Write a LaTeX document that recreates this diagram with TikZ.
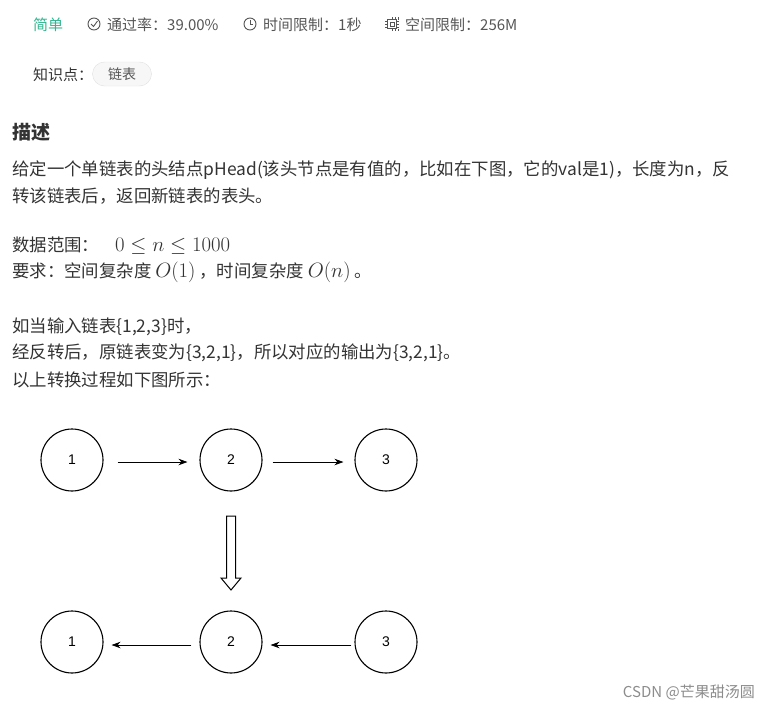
\documentclass[tikz,border=0pt]{standalone}
\usepackage{fontspec}
\setmainfont{Noto Sans CJK SC}
\newfontfamily\lsans{Liberation Sans}
\usetikzlibrary{arrows.meta}
\definecolor{txt}{HTML}{333333}
\definecolor{grn}{HTML}{32B48E}
\definecolor{gr}{HTML}{555555}
\newcommand{\mymath}[1]{{\fontsize{20}{20}\selectfont$#1$}}
\begin{document}
\begin{tikzpicture}[x=1pt,y=-1pt,
  t/.style={anchor=west,inner sep=0pt,text=txt,font=\fontsize{17.4}{20}\selectfont},
  h/.style={anchor=west,inner sep=0pt,text=gr,font=\fontsize{15}{18}\selectfont},
  ll/.style={circle,draw,line width=1.1pt,minimum size=62pt,inner sep=0pt,font=\fontsize{14}{16}\selectfont\lsans},
  ar/.style={-{Stealth[length=9pt,width=6.5pt]},line width=0.8pt}]
\useasboundingbox (0,0) rectangle (758,712);
\node[h,text=grn] (a) at (33,25) {简单};
\draw[gr,line width=0.9pt] (94,24) circle (6pt);
\draw[gr,line width=0.9pt] (91,24) -- (93.5,26.5) -- (97.5,21);
\node[h] (b) at (107,25) {通过率：39.00\%};
\draw[gr,line width=0.9pt] (250,24) circle (6pt);
\draw[gr,line width=0.9pt] (250,20) -- (250,24) -- (253,24);
\node[h] (c) at (263,25) {时间限制：1秒};
\draw[gr,line width=0.9pt] (387.5,19.5) rectangle (396.5,28.5);
\draw[gr,line width=0.9pt] (390,22) rectangle (394,26);
\foreach \k in {21,24,27}{\draw[gr,line width=0.8pt] (385,\k)--(387.5,\k) (396.5,\k)--(399,\k) (\k+371,17)--(\k+371,19.5) (\k+371,28.5)--(\k+371,31);}
\node[h] (d) at (405,25) {空间限制：256M};
\node[h,text=txt] (e) at (33,75) {知识点：};
\node[draw=black!12,fill=black!3,rounded corners=12pt,minimum width=59pt,minimum height=24pt,text=gr,font=\fontsize{14}{16}\selectfont] (f) at (122,74) {链表};
\node[t,font=\fontsize{19}{22}\selectfont\bfseries] (g) at (12,132) {描述};
\node[t] (l1) at (12,170) {给定一个单链表的头结点pHead(该头节点是有值的，比如在下图，它的val是1)，长度为n，反};
\node[t] (l2) at (12,196) {转该链表后，返回新链表的表头。};
\node[t] (l3) at (12,246) {数据范围：\hspace{16pt}\mymath{0\le n\le 1000}};
\node[t] (l4) at (12,272) {要求：空间复杂度 \mymath{O(1)} ，时间复杂度 \mymath{O(n)} 。};
\node[t] (l5) at (12,327) {如当输入链表\{1,2,3\}时，};
\node[t] (l6) at (12,353) {经反转后，原链表变为\{3,2,1\}，所以对应的输出为\{3,2,1\}。};
\node[t] (l7) at (12,380) {以上转换过程如下图所示：};
\node[ll] (n1) at (72,460) {1};
\node[ll] (n2) at (231,460) {2};
\node[ll] (n3) at (386,460) {3};
\node[ll] (m1) at (72,642) {1};
\node[ll] (m2) at (231,642) {2};
\node[ll] (m3) at (386,642) {3};
\draw[ar] ([xshift=14pt,yshift=-2pt]n1.east) -- ([xshift=-12pt,yshift=-2pt]n2.west);
\draw[ar] ([xshift=10pt,yshift=-2pt]n2.east) -- ([xshift=-11pt,yshift=-2pt]n3.west);
\draw[ar] ([xshift=-8pt,yshift=-3pt]m2.west) -- ([xshift=8pt,yshift=-3pt]m1.east);
\draw[ar] ([xshift=-3pt,yshift=-3pt]m3.west) -- ([xshift=8pt,yshift=-3pt]m2.east);
\draw[line width=1pt,fill=white] (226.5,516) -- (235.5,516) -- (235.5,578) -- (241,578) -- (231,590) -- (221,578) -- (226.5,578) -- cycle;
\node[anchor=east,inner sep=0pt,text=black!45,font=\fontsize{15}{17}\selectfont] (w) at (755,692) {CSDN @芒果甜汤圆};
\end{tikzpicture}
\end{document}
